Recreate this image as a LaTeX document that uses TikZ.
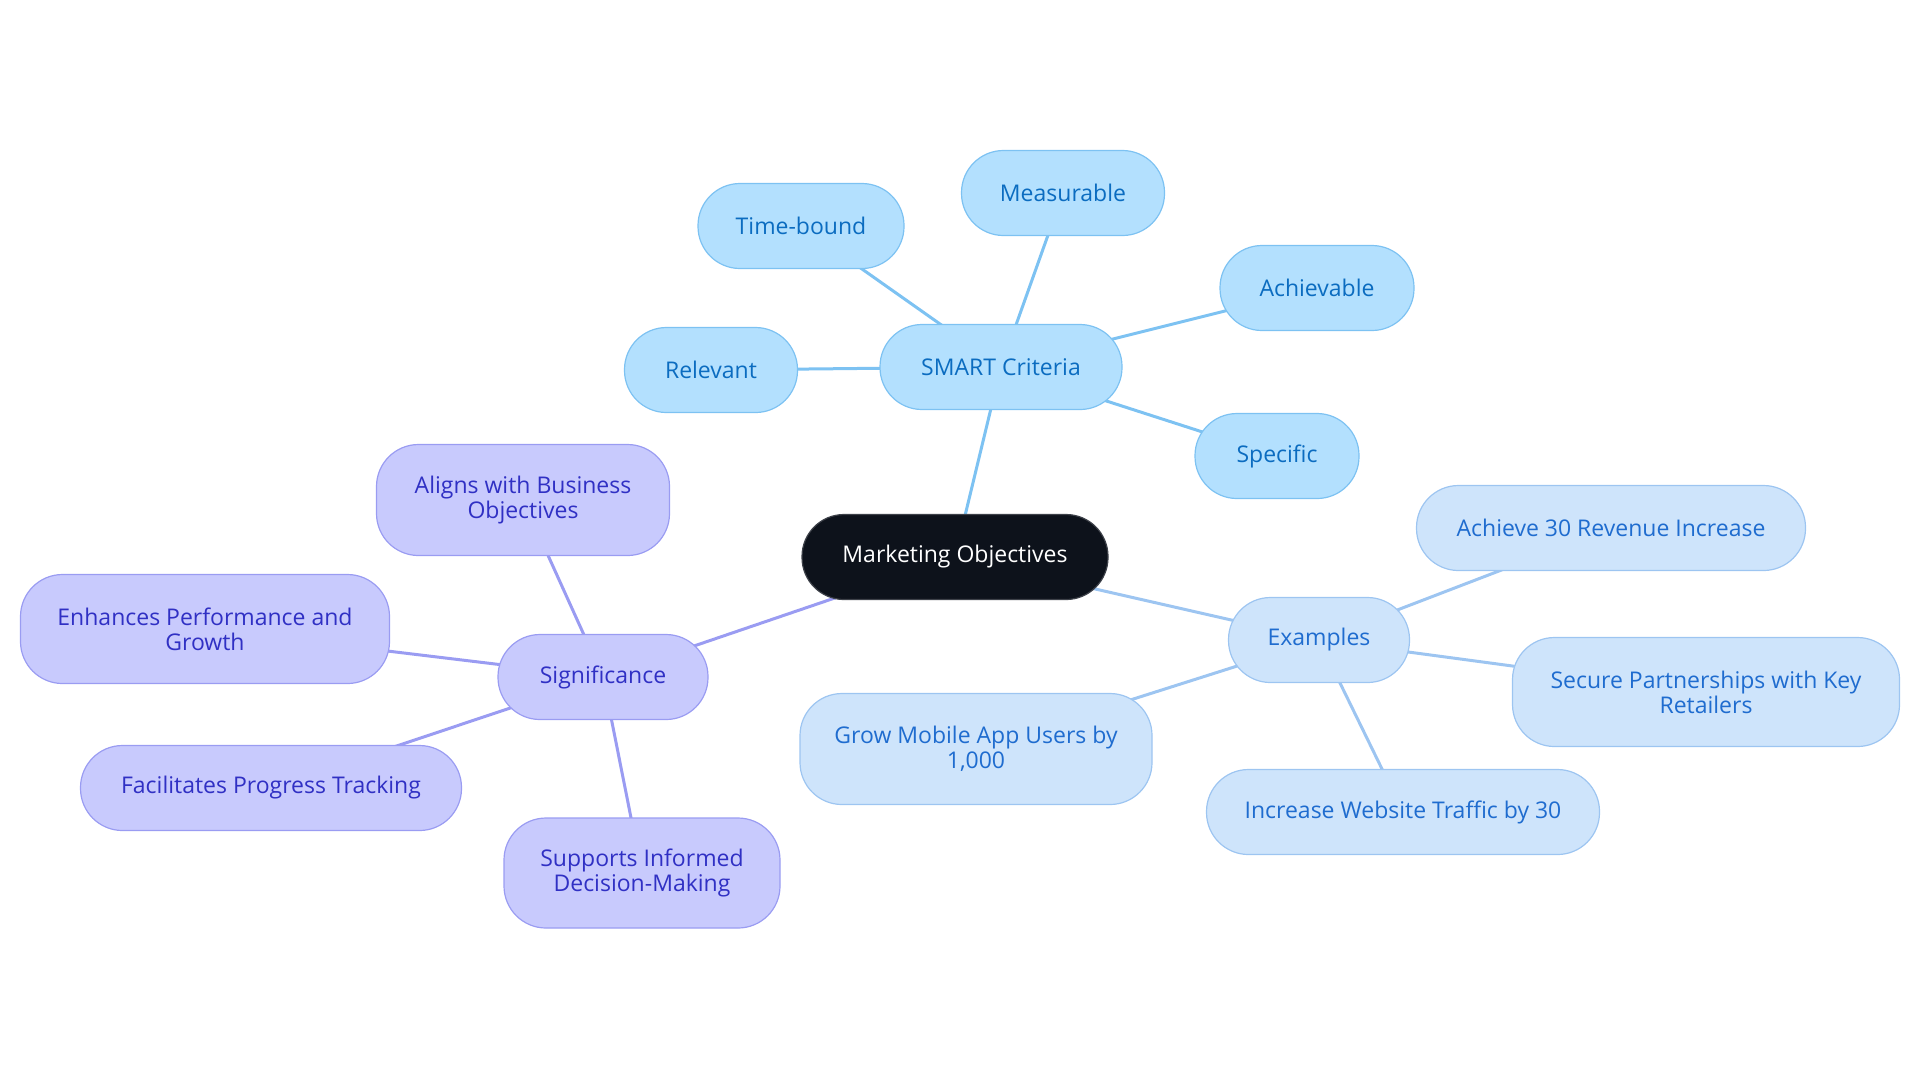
\documentclass[tikz,border=0pt]{standalone}
\usepackage{fontspec}
\setmainfont{Open Sans}
\usetikzlibrary{backgrounds}
\definecolor{rootfill}{HTML}{0D121B}
\definecolor{smartfill}{HTML}{B3E0FE}
\definecolor{smartline}{HTML}{7DC2F2}
\definecolor{smarttext}{HTML}{0B6CC0}
\definecolor{sigfill}{HTML}{C8CAFD}
\definecolor{sigline}{HTML}{9A9CF2}
\definecolor{sigtext}{HTML}{3030C4}
\definecolor{exfill}{HTML}{CEE4FB}
\definecolor{exline}{HTML}{9DC5F1}
\definecolor{extext}{HTML}{1F6CCF}
\tikzset{
  pill/.style = {rounded corners=21pt, align=center, inner sep=0pt,
    minimum height=42.5pt, font=\fontsize{11.5}{12.4}\selectfont, line width=0.6pt},
  rootnode/.style = {pill, fill=rootfill, draw=rootfill!80!white, text=white},
  smartnode/.style = {pill, fill=smartfill, draw=smartline, text=smarttext},
  signode/.style = {pill, fill=sigfill, draw=sigline, text=sigtext},
  exnode/.style = {pill, fill=exfill, draw=exline, text=extext},
  smartlink/.style = {draw=smartline, line width=1.5pt},
  siglink/.style = {draw=sigline, line width=1.5pt},
  exlink/.style = {draw=exline, line width=1.5pt}
}
\begin{document}
\begin{tikzpicture}[x=0.5pt, y=-0.5pt]
\useasboundingbox (0,0) rectangle (1920,1083);
\node[rootnode, minimum width=153pt] (root) at (955,557) {Marketing Objectives};

\node[smartnode, minimum width=121pt] (smart) at (1001,367) {SMART Criteria};
\node[smartnode, minimum width=103pt] (time) at (801,226) {Time-bound};
\node[smartnode, minimum width=101.5pt] (meas) at (1063,193) {Measurable};
\node[smartnode, minimum width=97pt] (achv) at (1317,288) {Achievable};
\node[smartnode, minimum width=86.5pt] (relv) at (711,370) {Relevant};
\node[smartnode, minimum width=82pt] (spec) at (1277,456) {Specific};

\node[signode, minimum width=105pt] (sig) at (603,677) {Significance};
\node[signode, minimum width=146.5pt, minimum height=55.5pt] (align) at (523,500) {Aligns with Business\\Objectives};
\node[signode, minimum width=184.5pt, minimum height=54.5pt] (enh) at (205,629) {Enhances Performance and\\Growth};
\node[signode, minimum width=190.5pt] (fac) at (271,788) {Facilitates Progress Tracking};
\node[signode, minimum width=138pt, minimum height=55pt] (supp) at (642,873) {Supports Informed\\Decision-Making};

\node[exnode, minimum width=90.5pt] (ex) at (1319,640) {Examples};
\node[exnode, minimum width=194.5pt] (rev) at (1611,528) {Achieve 30 Revenue Increase};
\node[exnode, minimum width=193.5pt, minimum height=54.5pt] (part) at (1706,692) {Secure Partnerships with Key\\Retailers};
\node[exnode, minimum width=196.5pt] (web) at (1403,812) {Increase Website Traffic by 30};
\node[exnode, minimum width=176pt, minimum height=55.5pt] (app) at (976,749) {Grow Mobile App Users by\\1,000};

\begin{scope}[on background layer]
\draw[smartlink] (root.center) -- (smart.center);
\draw[smartlink] (smart.center) -- (time.center);
\draw[smartlink] (smart.center) -- (meas.center);
\draw[smartlink] (smart.center) -- (achv.center);
\draw[smartlink] (smart.center) -- (relv.center);
\draw[smartlink] (smart.center) -- (spec.center);
\draw[siglink] (root.center) -- (sig.center);
\draw[siglink] (sig.center) -- (align.center);
\draw[siglink] (sig.center) -- (enh.center);
\draw[siglink] (sig.center) -- (fac.center);
\draw[siglink] (sig.center) -- (supp.center);
\draw[exlink] (root.center) -- (ex.center);
\draw[exlink] (ex.center) -- (rev.center);
\draw[exlink] (ex.center) -- (part.center);
\draw[exlink] (ex.center) -- (web.center);
\draw[exlink] (ex.center) -- (app.center);
\end{scope}
\end{tikzpicture}
\end{document}
